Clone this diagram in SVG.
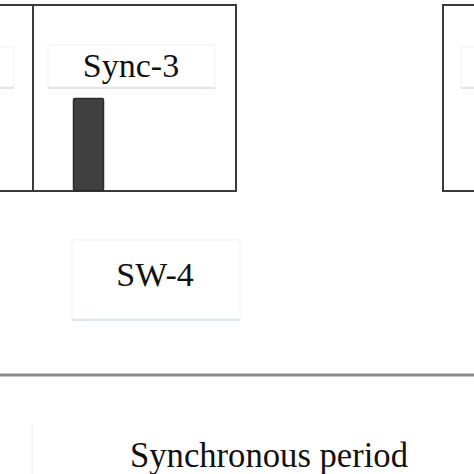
<svg xmlns="http://www.w3.org/2000/svg" width="474" height="474" viewBox="0 0 474 474">
<defs>
<style>
.frame{fill:none;stroke:#3a3a3a;stroke-width:2}
.lbl{fill:#ffffff;stroke:#f0f2f6;stroke-width:1}
.shadow{stroke:#dfe6f2;stroke-width:2}
.txt{font-family:"Liberation Serif","Times New Roman",serif;fill:#111111;text-anchor:middle}
</style>
</defs>
<rect width="474" height="474" fill="#ffffff"/>
<g id="frame-left">
<path class="frame" d="M-5,5 H236 V191 H-5"/>
<line class="frame" x1="33" y1="5" x2="33" y2="191"/>
</g>
<g id="frame-right">
<path class="frame" d="M480,5 H443 V191 H480"/>
</g>
<g id="label-left">
<rect class="lbl" x="-5" y="47" width="19" height="40"/>
<line class="shadow" x1="-5" y1="88" x2="14" y2="88"/>
</g>
<g id="sync-3">
<rect class="lbl" x="48" y="45" width="167" height="42"/>
<line class="shadow" x1="48" y1="88" x2="215" y2="88"/>
<text class="txt" x="131" y="77" font-size="34">Sync-3</text>
</g>
<g id="bar">
<rect x="73.5" y="98.5" width="30" height="92" rx="1.5" fill="#404040" stroke="#2a2a2a" stroke-width="1.5"/>
</g>
<g id="label-right">
<rect class="lbl" x="461" y="47" width="20" height="40"/>
<line class="shadow" x1="461" y1="88" x2="474" y2="88"/>
</g>
<g id="sw-4">
<rect class="lbl" x="72" y="240" width="168" height="79"/>
<line class="shadow" x1="72" y1="320" x2="240" y2="320"/>
<text class="txt" x="155" y="286" font-size="34">SW-4</text>
</g>
<g id="connectors">
<line x1="0" y1="375" x2="474" y2="375" stroke="#8a8a8a" stroke-width="3"/>
<line x1="32" y1="424" x2="32" y2="474" stroke="#eeeeee" stroke-width="1"/>
</g>
<g id="period">
<text class="txt" x="269" y="467" font-size="35" textLength="278" lengthAdjust="spacingAndGlyphs">Synchronous period</text>
</g>
</svg>
